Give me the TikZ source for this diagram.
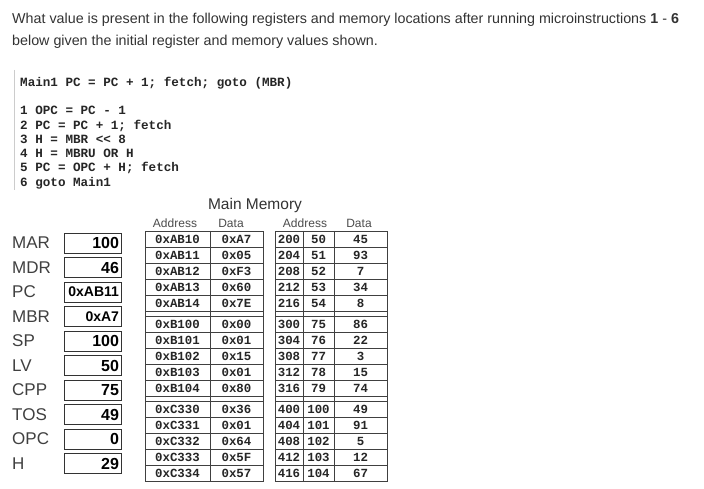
\documentclass[tikz,border=0pt]{standalone}
\usepackage{fontspec}
\setmainfont{Liberation Sans}
\setmonofont{Liberation Mono}
\begin{document}
\begin{tikzpicture}[x=1pt,y=-1pt,
  q/.style={anchor=base west,inner sep=0,font=\fontsize{14.3}{16}\selectfont,text=black!80},
  code/.style={anchor=base west,inner sep=0,font=\ttfamily\bfseries\fontsize{12.6}{14}\selectfont,text=black!85},
  reg/.style={anchor=west,inner sep=0,font=\fontsize{17}{19}\selectfont,text=black!75},
  val/.style={draw=black!80,line width=0.9pt,minimum width=57pt,minimum height=20pt,inner sep=2pt,align=right,text width=52pt,font=\bfseries\fontsize{16}{18}\selectfont},
  hdr/.style={inner sep=0,font=\fontsize{12}{14}\selectfont,text=black!70},
  cell/.style={inner sep=0,font=\ttfamily\bfseries\fontsize{12.4}{14}\selectfont,text=black!85},
  tb/.style={draw=black!75,line width=0.6pt}]
\useasboundingbox[fill=white] (0,0) rectangle (704,489);
\node[q] (q1) at (12,24) {What value is present in the following registers and memory locations after running microinstructions \textbf{1} - \textbf{6}};
\node[q] (q2) at (12,46) {below given the initial register and memory values shown.};
\draw[black!20,line width=1pt] (14,70) -- (14,190);
\node[code] (c0) at (20,87) {Main1 PC = PC + 1; fetch; goto (MBR)};
\foreach \t [count=\i] in {1 OPC = PC - 1,2 PC = PC + 1; fetch,3 H = MBR << 8,4 H = MBRU OR H,5 PC = OPC + H; fetch,6 goto Main1}
  \node[code] (c\i) at (20,{100.5+14.3*\i}) {\t};
\node[inner sep=0,font=\fontsize{15.5}{17}\selectfont,text=black!80] (mm) at (255,205) {Main Memory};
\node[hdr] (h1) at (175,223) {Address};
\node[hdr] (h2) at (231,223) {Data};
\node[hdr] (h3) at (305,223) {Address};
\node[hdr] (h4) at (359,223) {Data};
% registers
\foreach \n/\v [count=\i] in {MAR/100,MDR/46,PC/{\fontsize{14}{16}\selectfont 0xAB11},MBR/{\fontsize{14}{16}\selectfont 0xA7},SP/100,LV/50,CPP/75,TOS/49,OPC/0,H/29}{
  \node[reg] (r\i) at (12,{243+24.5*(\i-1)}) {\n};
  \node[val] (v\i) at (93,{243+24.5*(\i-1)}) {\v};
}
% memory tables
\foreach \g in {0,1,2}{
  \pgfmathsetmacro{\yt}{231+\g*85}
  \draw[tb] (145,\yt) rectangle (263,\yt+80);
  \draw[tb] (210,\yt) -- (210,\yt+80);
  \draw[tb] (275,\yt) rectangle (387,\yt+80);
  \draw[tb] (303,\yt) -- (303,\yt+80);
  \draw[tb] (334,\yt) -- (334,\yt+80);
  \foreach \k in {1,2,3,4}{
    \draw[tb] (145,\yt+16*\k) -- (263,\yt+16*\k);
    \draw[tb] (275,\yt+16*\k) -- (387,\yt+16*\k);
  }
}
\foreach \g in {0,1}{
  \pgfmathsetmacro{\yt}{311+\g*85}
  \draw[tb] (145,\yt) rectangle (263,\yt+5);
  \draw[tb] (210,\yt) -- (210,\yt+5);
  \draw[tb] (275,\yt) rectangle (387,\yt+5);
  \draw[tb] (303,\yt) -- (303,\yt+5);
  \draw[tb] (334,\yt) -- (334,\yt+5);
}
\foreach \a/\d/\p/\b/\c [count=\i from 0] in {
 0xAB10/0xA7/200/50/45,0xAB11/0x05/204/51/93,0xAB12/0xF3/208/52/7,0xAB13/0x60/212/53/34,0xAB14/0x7E/216/54/8,
 0xB100/0x00/300/75/86,0xB101/0x01/304/76/22,0xB102/0x15/308/77/3,0xB103/0x01/312/78/15,0xB104/0x80/316/79/74,
 0xC330/0x36/400/100/49,0xC331/0x01/404/101/91,0xC332/0x64/408/102/5,0xC333/0x5F/412/103/12,0xC334/0x57/416/104/67}{
  \pgfmathsetmacro{\yy}{239+16*mod(\i,5)+85*floor(\i/5)}
  \node[cell] (ma\i) at (177.5,\yy) {\a};
  \node[cell] (md\i) at (236.5,\yy) {\d};
  \node[cell] (mp\i) at (289,\yy) {\p};
  \node[cell] (mb\i) at (318.5,\yy) {\b};
  \node[cell] (mc\i) at (360.5,\yy) {\c};
}
\end{tikzpicture}
\end{document}
